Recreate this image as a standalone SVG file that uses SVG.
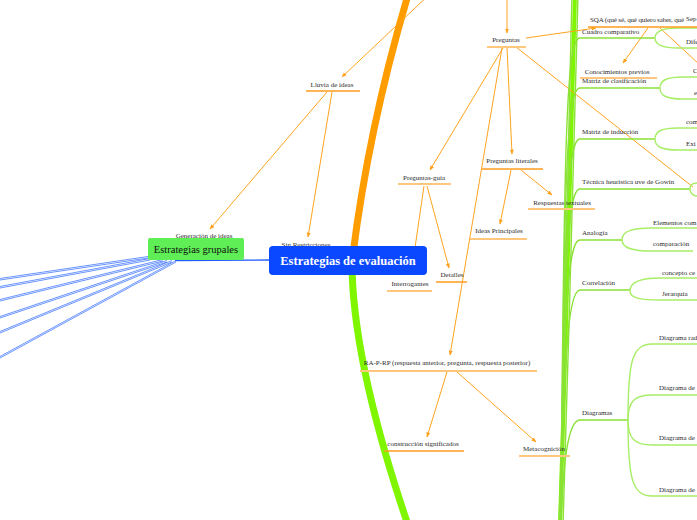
<svg xmlns="http://www.w3.org/2000/svg" width="697" height="520" viewBox="0 0 697 520">
<defs>
<marker id="ah" viewBox="0 0 10 10" refX="9" refY="5" markerWidth="5" markerHeight="5" orient="auto"><path d="M0,1 L10,5 L0,9 z" fill="#ffa01a"/></marker>
<style>
.t{font-family:"Liberation Serif",serif;font-size:7px;fill:#2b2b2b}
.o{fill:none;stroke:#ffa31f;stroke-width:1}
.oa{fill:none;stroke:#ffa31f;stroke-width:1;marker-end:url(#ah)}
.ud{stroke:#ff9d1c;stroke-width:1.5}
.ul{stroke:#ffc67e;stroke-width:2}
.g{fill:none;stroke:#8ae236;stroke-width:1.4}
.gl{fill:none;stroke:#a8ee66;stroke-width:1.4}
.b{stroke:#2a66ff;stroke-width:0.7}
</style>
</defs>
<rect width="697" height="520" fill="#ffffff"/>
<g id="connectors">
<path d="M408,-5 Q368,130 352,262" fill="none" stroke="#ff9d00" stroke-width="7"/>
<path d="M352,262 Q352,360 408,525" fill="none" stroke="#7ff500" stroke-width="7"/>
<path d="M575,-5 C570,150 566,350 560,525" fill="none" stroke="#7ff500" stroke-width="4"/>
<path d="M572,-5 C568,150 565,350 559,525" class="g"/>
<path d="M578,-5 C573,150 569,350 563,525" class="g"/>
<path d="M175,260.5 L272,260" stroke="#1f5cff" stroke-width="1.4"/>
<g class="b">
<line x1="148" y1="256.5" x2="0" y2="278.5"/><line x1="148" y1="258" x2="0" y2="280"/>
<line x1="150" y1="258.5" x2="0" y2="286.5"/><line x1="150" y1="260" x2="0" y2="288"/>
<line x1="163" y1="259.5" x2="0" y2="299.5"/><line x1="163" y1="261" x2="0" y2="301"/>
<line x1="167" y1="260.5" x2="0" y2="316.5"/><line x1="167" y1="262" x2="0" y2="318"/>
<line x1="172" y1="260.5" x2="0" y2="331.5"/><line x1="172" y1="262" x2="0" y2="333"/>
<line x1="176" y1="260.5" x2="0" y2="356.5"/><line x1="176" y1="262" x2="0" y2="358"/>
</g>
<line class="oa" x1="432" y1="-8" x2="342" y2="77"/>
<line class="oa" x1="327" y1="92" x2="210" y2="229"/>
<line class="oa" x1="332" y1="92" x2="308" y2="237"/>
<line class="oa" x1="507" y1="-5" x2="507" y2="33"/>
<line class="oa" x1="526" y1="38" x2="596" y2="28"/>
<line class="o" x1="516" y1="47" x2="693" y2="187"/>
<line class="oa" x1="503" y1="48" x2="430" y2="170"/>
<line class="oa" x1="507" y1="48" x2="512" y2="154"/>
<line class="oa" x1="502" y1="48" x2="450" y2="355"/>
<line class="oa" x1="424" y1="186" x2="411" y2="275"/>
<line class="oa" x1="427" y1="186" x2="449" y2="268"/>
<line class="oa" x1="511" y1="170" x2="500" y2="224"/>
<line class="oa" x1="521" y1="170" x2="552" y2="195"/>
<line class="oa" x1="447" y1="372" x2="427" y2="437"/>
<line class="oa" x1="457" y1="372" x2="536" y2="442"/>
<line class="oa" x1="648" y1="28" x2="623" y2="63"/>
<line class="o" x1="660" y1="28" x2="700" y2="65"/>
<path class="g" d="M561,522 C564,118 567,38 580,38 H655"/>
<path class="g" d="M561,522 C564,168 567,88 580,88 H660"/>
<path class="g" d="M561,522 C564,219 567,139 580,139 H655"/>
<path class="g" d="M561,522 C564,269 567,189 580,189 H690"/>
<path class="g" d="M561,522 C564,320 567,240 580,240 H622"/>
<path class="g" d="M561,522 C564,370 567,290 580,290 H630"/>
<path class="g" d="M561,522 C563,470 567,420 580,420 H628"/>
<path class="gl" d="M655,38 C655,31 662,28 678,28 H697 M655,38 C655,45 662,48 678,48 H697"/>
<path class="gl" d="M660,88 C660,80 667,77 683,77 H697 M660,88 C660,96 667,99 683,99 H697"/>
<path class="gl" d="M655,139 C655,131 662,128 678,128 H697 M655,139 C655,147 662,150 678,150 H697"/>
<path class="gl" d="M690,189 C690,185 693,183 697,183 M690,189 C690,193 693,196 697,196"/>
<path class="gl" d="M622,240 C622,231 632,228 652,228 H697 M622,240 C622,248 632,251 652,251 H693"/>
<path class="gl" d="M630,291 C630,282 640,278 660,278 H697 M630,291 C630,298 640,300 660,300 H697"/>
<path class="gl" d="M628,420 C628,362 632,344 652,344 H697"/>
<path class="gl" d="M628,420 C628,402 634,395 652,395 H697"/>
<path class="gl" d="M628,420 C628,438 634,445 652,445 H697"/>
<path class="gl" d="M628,420 C628,478 632,496 652,496 H697"/>
</g>
<g id="n-lluvia"><text class="t" x="332" y="87" text-anchor="middle">Lluvia de ideas</text><line class="ud" x1="306" y1="91" x2="360" y2="91"/></g>
<g id="n-generacion"><text class="t" x="204" y="238" text-anchor="middle">Generación de ideas</text></g>
<g id="n-sin"><text class="t" x="306" y="247" text-anchor="middle">Sin Restricciones</text></g>
<g id="n-preguntas"><text class="t" x="506" y="42" text-anchor="middle">Preguntas</text><line class="ul" x1="487" y1="47" x2="526" y2="47"/></g>
<g id="n-guia"><text class="t" x="424" y="180" text-anchor="middle">Preguntas-guía</text><line class="ul" x1="398" y1="184" x2="451" y2="184"/></g>
<g id="n-literales"><text class="t" x="512" y="163" text-anchor="middle">Preguntas literales</text><line class="ud" x1="482" y1="169" x2="543" y2="169"/></g>
<g id="n-respuestas"><text class="t" x="562" y="205" text-anchor="middle">Respuestas textuales</text><line class="ul" x1="528" y1="209" x2="595" y2="209"/></g>
<g id="n-ideas"><text class="t" x="499" y="233" text-anchor="middle">Ideas Principales</text><line class="ul" x1="470" y1="239" x2="527" y2="239"/></g>
<g id="n-detalles"><text class="t" x="452" y="277" text-anchor="middle">Detalles</text><line class="ud" x1="436" y1="282" x2="467" y2="282"/></g>
<g id="n-interrogantes"><text class="t" x="410" y="286" text-anchor="middle">Interrogantes</text><line class="ul" x1="387" y1="291" x2="432" y2="291"/></g>
<g id="n-rap"><text class="t" x="447" y="365" text-anchor="middle">RA-P-RP (respuesta anterior, pregunta, respuesta posterior)</text><line class="ul" x1="360" y1="371" x2="537" y2="371"/></g>
<g id="n-construccion"><text class="t" x="423" y="446" text-anchor="middle">construcción significados</text><line class="ud" x1="384" y1="451" x2="464" y2="451"/></g>
<g id="n-meta"><text class="t" x="544" y="451" text-anchor="middle">Metacognición</text><line class="ul" x1="519" y1="456" x2="570" y2="456"/></g>
<g id="n-sqa"><text class="t" x="590" y="22" textLength="94">SQA (qué sé, qué quiero saber, qué</text><text class="t" x="686" y="21">Sep</text><line class="ud" x1="588" y1="27" x2="697" y2="27"/></g>
<g id="n-conocimientos"><text class="t" x="617" y="74" text-anchor="middle">Conocimientos previos</text><line class="ul" x1="580" y1="78" x2="657" y2="78"/></g>
<g id="n-cuadro"><text class="t" x="582" y="34">Cuadro comparativo</text><text class="t" x="686" y="44">Dife</text></g>
<g id="n-clasif"><text class="t" x="582" y="83">Matriz de clasificación</text><text class="t" x="693" y="73">C</text><text class="t" x="694" y="95">e</text></g>
<g id="n-induccion"><text class="t" x="582" y="134">Matriz de inducción</text><text class="t" x="686" y="124">com</text><text class="t" x="686" y="146">Exi</text></g>
<g id="n-tecnica"><text class="t" x="582" y="184">Técnica heurística uve de Gowin</text></g>
<g id="n-analogia"><text class="t" x="582" y="235">Analogía</text><text class="t" x="653" y="225">Elementos com</text><text class="t" x="653" y="246">comparación</text></g>
<g id="n-correlacion"><text class="t" x="582" y="285">Correlación</text><text class="t" x="662" y="275">concepto ce</text><text class="t" x="662" y="296">Jerarquía</text></g>
<g id="n-diagramas"><text class="t" x="582" y="415">Diagramas</text><text class="t" x="659" y="340">Diagrama rad</text><text class="t" x="659" y="390">Diagrama de</text><text class="t" x="659" y="440">Diagrama de</text><text class="t" x="659" y="492">Diagrama de</text></g>
<g id="n-grupales"><rect x="148" y="238" width="96" height="22" rx="2" fill="#5fee55"/><text x="196" y="253" text-anchor="middle" font-family="Liberation Serif, serif" font-size="10.5" fill="#111">Estrategias grupales</text></g>
<g id="n-central"><rect x="269" y="246" width="158" height="29" rx="4" fill="#0a48ff"/><text x="348" y="265" text-anchor="middle" font-family="Liberation Serif, serif" font-size="12.5" font-weight="bold" fill="#ffffff">Estrategias de evaluación</text></g>
</svg>
